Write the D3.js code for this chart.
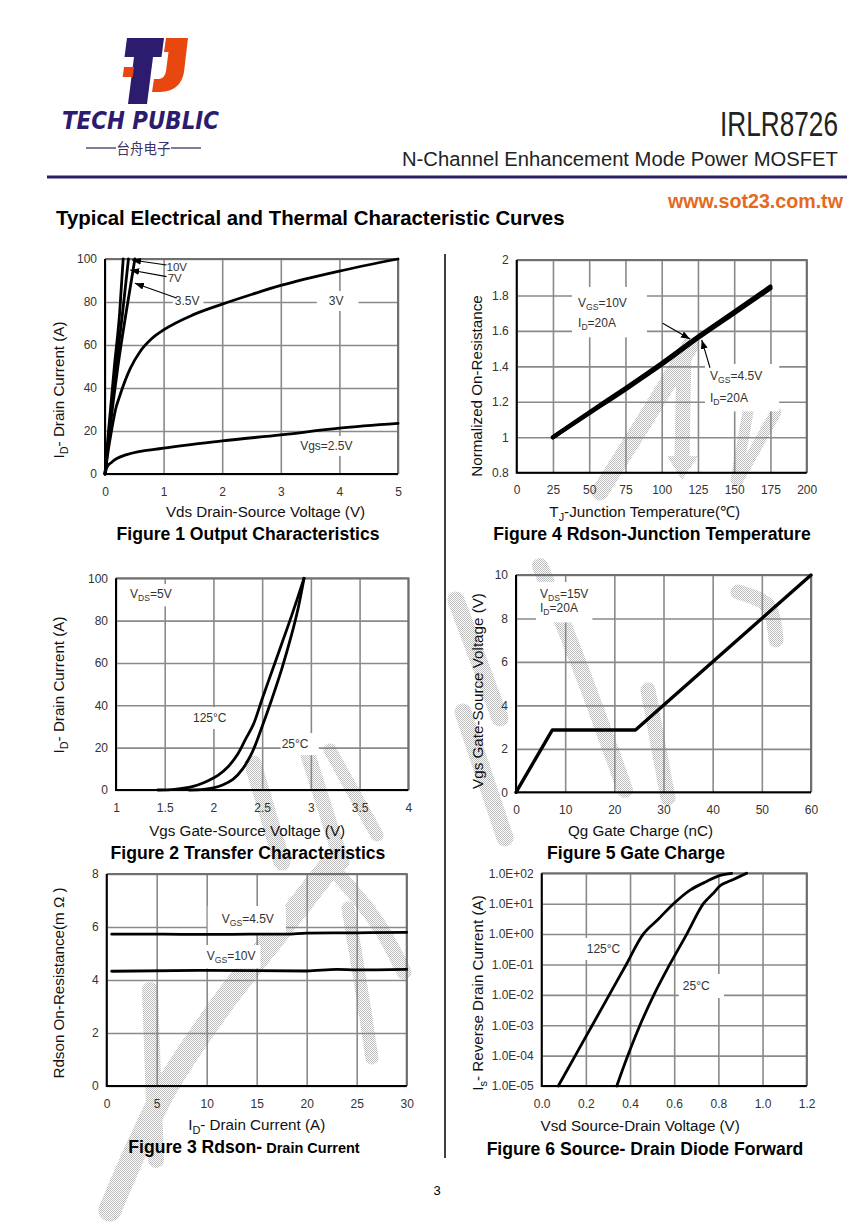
<!DOCTYPE html>
<html><head><meta charset="utf-8">
<script src="https://cdn.jsdelivr.net/npm/d3@7"></script>
<style>html,body{margin:0;padding:0;background:#fff}</style>
</head><body>
<script>
// ---------------- DATA ----------------
const fig1XTicks = [0, 1, 2, 3, 4, 5];
const fig1YTicks = [0, 20, 40, 60, 80, 100];
const fig1Vgs10 = [[0,0],[0.06,20],[0.16,50],[0.25,75],[0.31,100]];
const fig1Vgs7  = [[0,0],[0.07,20],[0.19,50],[0.30,75],[0.40,100]];
const fig1Vgs35 = [[0,0],[0.08,20],[0.22,50],[0.36,75],[0.51,100]];
const fig1Vgs3  = [[0,0],[0.05,10],[0.11,20],[0.18,30],[0.26,37],[0.43,49],[0.6,57],[0.8,63],[1,67],[1.5,74],[2,79],[2.5,83.5],[3,87.7],[4,94.4],[5,100]];
const fig1Vgs25 = [[0,0],[0.03,3],[0.11,5.4],[0.37,9],[1,12],[2,15.4],[3,18.2],[4,21.3],[5,23.5]];

const fig4XTicks = [0, 25, 50, 75, 100, 125, 150, 175, 200];
const fig4YTicks = [0.8, 1, 1.2, 1.4, 1.6, 1.8, 2];
const fig4YLabels = ["0.8", "1", "1.2", "1.4", "1.6", "1.8", "2"];
const fig4Vgs10 = [[25,1.0],[50,1.135],[75,1.27],[100,1.41],[125,1.56],[150,1.70],[175,1.84]];
const fig4Vgs45 = [[25,1.0],[50,1.14],[75,1.277],[100,1.418],[125,1.567],[150,1.708],[175,1.85]];

const fig2XTicks = [1, 1.5, 2, 2.5, 3, 3.5, 4];
const fig2YTicks = [0, 20, 40, 60, 80, 100];
const fig2T125 = [[1.43,0],[1.6,0.3],[1.8,1.8],[1.95,4.5],[2.05,7],[2.15,11],[2.25,17],[2.33,24],[2.41,31],[2.5,43],[2.6,56],[2.7,69],[2.8,82],[2.93,100]];
const fig2T25  = [[1.75,0],[1.9,0.3],[2.0,1],[2.1,2.5],[2.2,5],[2.3,10],[2.4,18],[2.5,30],[2.6,43],[2.7,57],[2.8,73],[2.87,86],[2.93,100]];

const fig5XTicks = [0, 10, 20, 30, 40, 50, 60];
const fig5YTicks = [0, 2, 4, 6, 8, 10];
const fig5Vgs = [[0,0],[7.4,2.87],[24.3,2.87],[60,10]];

const fig3XTicks = [0, 5, 10, 15, 20, 25, 30];
const fig3YTicks = [0, 2, 4, 6, 8];
const fig3Vgs45 = [[0.5,5.73],[5,5.73],[10,5.72],[15,5.73],[18,5.73],[20,5.77],[25,5.78],[30,5.80]];
const fig3Vgs10 = [[0.5,4.33],[10,4.36],[20,4.34],[23,4.40],[25,4.38],[30,4.40]];

const fig6XTicks = [0, 0.2, 0.4, 0.6, 0.8, 1.0, 1.2];
const fig6XLabels = ["0.0", "0.2", "0.4", "0.6", "0.8", "1.0", "1.2"];
const fig6YTicks = [1e-5, 1e-4, 1e-3, 1e-2, 1e-1, 1, 10, 100];
const fig6YLabels = ["1.0E-05", "1.0E-04", "1.0E-03", "1.0E-02", "1.0E-01", "1.0E+00", "1.0E+01", "1.0E+02"];
const fig6T125 = [[0.075,1e-5],[0.152,1e-4],[0.229,1e-3],[0.306,1e-2],[0.383,1e-1],[0.46,1],[0.53,3.2],[0.597,10],[0.672,28],[0.747,54],[0.808,85],[0.86,100]];
const fig6T25  = [[0.34,1e-5],[0.39,1e-4],[0.445,1e-3],[0.508,1e-2],[0.58,1e-1],[0.657,1],[0.732,10],[0.777,22],[0.81,40],[0.868,63],[0.928,100]];

// ---------------- RENDER ----------------
const FONT = "'Liberation Sans', Arial, Helvetica, sans-serif";
const svg = d3.select('body').append('svg').attr('width', 868).attr('height', 1228)
  .style('display','block').attr('font-family', FONT);
svg.append('rect').attr('width', 868).attr('height', 1228).attr('fill', '#fff');

const defs = svg.append('defs');
defs.append('marker').attr('id','arr').attr('markerUnits','userSpaceOnUse')
  .attr('markerWidth',9).attr('markerHeight',7).attr('refX',9).attr('refY',3.5).attr('orient','auto')
  .append('path').attr('d','M0,0 L9,3.5 L0,7 Z').attr('fill','#000');
const pat = defs.append('pattern').attr('id','hatch').attr('patternUnits','userSpaceOnUse').attr('width',2).attr('height',2);
pat.append('rect').attr('x',0).attr('y',0).attr('width',1).attr('height',1).attr('fill','#bcbcbc');
pat.append('rect').attr('x',1).attr('y',1).attr('width',1).attr('height',1).attr('fill','#bcbcbc');

// faint watermark (decoration, under the charts)
const wm = svg.append('g').attr('fill','none').attr('stroke','url(#hatch)').attr('stroke-linecap','round').attr('stroke-linejoin','round');
const wmStrokes = [
  {w:17, p:[[690,346],[645,420],[600,492]]},
  {w:15, p:[[684,352],[682,458]]},
  {w:11, p:[[748,412],[736,480]]},
  {w:11, p:[[776,412],[738,480]]},
  {w:17, p:[[456,600],[500,718]]},
  {w:17, p:[[463,712],[505,838]]},
  {w:16, p:[[540,566],[585,680],[625,790]]},
  {w:15, p:[[648,690],[668,798]]},
  {w:15, p:[[738,592],[768,606],[776,640]]},
  {w:17, p:[[253,764],[282,862]]},
  {w:15, p:[[306,749],[342,862]]},
  {w:13, p:[[330,750],[377,835]]},
  {w:23, p:[[330,866],[280,930],[225,1000],[165,1090],[110,1210]]},
  {w:16, p:[[150,990],[156,1160]]},
  {w:15, p:[[336,872],[378,924],[404,972]]},
  {w:13, p:[[348,908],[360,980],[372,1058]]}
];
const wmLine = d3.line().curve(d3.curveCatmullRom);
wmStrokes.forEach(s => wm.append('path').attr('d', wmLine(s.p)).attr('stroke-width', s.w));
wm.append('path').attr('d','M667,456 L698,456 L682,480 Z').attr('fill','url(#hatch)').attr('stroke','none');

function richText(g, x, y, parts, o) {
  const t = g.append('text').attr('x', x).attr('y', y).attr('font-size', o.size)
    .attr('fill', o.fill || '#000').attr('text-anchor', o.anchor || 'start');
  if (o.weight) t.attr('font-weight', o.weight);
  if (o.rotate) t.attr('transform', `rotate(-90,${x},${y})`);
  let shifted = false;
  const sh = o.size * 0.28;
  parts.forEach(p => {
    const ts = t.append('tspan');
    if (typeof p === 'string') {
      ts.text(p);
      if (shifted) { ts.attr('dy', -sh); shifted = false; }
    } else if (p.s) {
      ts.text(p.s).attr('font-size', o.size * 0.72).attr('dy', sh); shifted = true;
    } else if (p.small) {
      ts.text(p.small).attr('font-size', p.size);
    }
  });
  return t;
}

// text squeezed horizontally to a given width (via transform, so its box stays honest)
function fitText(g, x, y, str, width, attrs) {
  const gg = g.append('g');
  const t = gg.append('text').attr('x', 0).attr('y', 0).text(str);
  Object.entries(attrs).forEach(([k, v]) => t.attr(k, v));
  const natural = t.node().getComputedTextLength();
  gg.attr('transform', `translate(${x},${y}) scale(${width / natural},1)`);
  return t;
}

function drawChart(c) {
  const g = svg.append('g');
  const x = d3.scaleLinear().domain(c.xDomain).range([c.left, c.right]);
  const y = (c.yLog ? d3.scaleLog() : d3.scaleLinear()).domain(c.yDomain).range([c.bottom, c.top]);
  const H = c.bottom - c.top, W = c.right - c.left;
  const gridLayer = g.append('g'), boxLayer = g.append('g'), lineLayer = g.append('g'), textLayer = g.append('g');

  const styleAxis = a => {
    a.attr('font-family', FONT).attr('font-size', 12);
    a.select('.domain').remove();
    a.selectAll('.tick line').attr('stroke', '#8a8a8a').attr('stroke-width', 1.6);
    a.selectAll('.tick text').attr('fill', '#333');
  };
  gridLayer.append('g').attr('transform', `translate(0,${c.bottom})`)
    .call(d3.axisBottom(x).tickValues(c.xTicks).tickSize(-H).tickPadding(c.xPad || 13)
      .tickFormat((d, i) => c.xLabels ? c.xLabels[i] : String(d)))
    .call(styleAxis);
  gridLayer.append('g').attr('transform', `translate(${c.left},0)`)
    .call(d3.axisLeft(y).tickValues(c.yTicks).tickSize(-W).tickPadding(c.yPad || 8)
      .tickFormat((d, i) => c.yLabels ? c.yLabels[i] : String(d)))
    .call(styleAxis);
  gridLayer.append('path').attr('d', `M${c.left},${c.top} H${c.right} V${c.bottom}`)
    .attr('fill','none').attr('stroke','#6f6f6f').attr('stroke-width',2);
  gridLayer.append('path').attr('d', `M${c.left},${c.top} V${c.bottom} H${c.right}`)
    .attr('fill','none').attr('stroke','#000').attr('stroke-width',2);

  const line = d3.line().x(d => x(d[0])).y(d => y(d[1])).curve(c.curve || d3.curveMonotoneX);
  c.series.forEach(s => {
    lineLayer.append('path').attr('d', line(s)).attr('fill','none').attr('stroke','#000')
      .attr('stroke-width', c.lw).attr('stroke-linejoin','round').attr('stroke-linecap','round');
  });
  (c.arrows || []).forEach(a => {
    lineLayer.append('line').attr('x1', x(a[0][0])).attr('y1', y(a[0][1]))
      .attr('x2', x(a[1][0])).attr('y2', y(a[1][1])).attr('stroke','#000').attr('stroke-width',1.1)
      .attr('marker-end','url(#arr)');
  });
  (c.labels || []).forEach(l => {
    const lines = l.lines || [l.parts];
    const px = x(l.at[0]), py = y(l.at[1]);
    const nodes = lines.map((p, i) => richText(textLayer, px, py + i * (l.lineH || 14), p, {size: l.size || 12, fill: '#333'}));
    if (l.box) {
      let x0 = 1e9, y0 = 1e9, x1 = -1e9, y1 = -1e9;
      nodes.forEach(n => { const b = n.node().getBBox(); x0 = Math.min(x0, b.x); y0 = Math.min(y0, b.y); x1 = Math.max(x1, b.x + b.width); y1 = Math.max(y1, b.y + b.height); });
      boxLayer.append('rect').attr('x', x0 - l.box[0]).attr('y', y0 - l.box[1])
        .attr('width', x1 - x0 + l.box[0] + l.box[2]).attr('height', y1 - y0 + l.box[1] + l.box[3]).attr('fill','#fff');
    }
  });
  richText(g, (c.left + c.right) / 2 + (c.xtDx || 0), c.xtY, c.xTitle, {size: 15.2, anchor: 'middle', fill: '#111'});
  richText(g, c.ytX, c.ytY, c.yTitle, {size: 15.2, anchor: 'middle', fill: '#111', rotate: true});
  richText(g, c.capX, c.capY, c.caption, {size: 17.6, anchor: 'middle', weight: 'bold', fill: '#000'});
}

// ---- header ----
const hdr = svg.append('g');
hdr.append('path').attr('d','M127,38 L164,38 L161.5,57 L124.5,57 Z').attr('fill','#2d1b6e');
hdr.append('path').attr('d','M134,57 L153,57 L147,104 L128,104 Z').attr('fill','#2d1b6e');
hdr.append('path').attr('d','M166,38 L188,38 L184,72 Q181,91 160,92 L152,92 L154,79 L159,79 Q165,78 166,71 L168.5,52 L164,52 Z').attr('fill','#e8470f');
hdr.append('path').attr('d','M124,67 L134,67 L132.7,77 L122.7,77 Z').attr('fill','#e8470f');
fitText(hdr, 62, 129, 'TECH PUBLIC', 157, {'font-size':25, 'font-weight':900, 'font-style':'italic', fill:'#2d1b6e', 'font-family':"'DejaVu Sans', 'Liberation Sans', sans-serif"});
hdr.append('line').attr('x1',86).attr('x2',116).attr('y1',148).attr('y2',148).attr('stroke','#3b3462').attr('stroke-width',1.3);
hdr.append('line').attr('x1',171).attr('x2',201).attr('y1',148).attr('y2',148).attr('stroke','#3b3462').attr('stroke-width',1.3);
fitText(hdr, 116.5, 154, '台舟电子', 54, {'font-size':15, fill:'#3b3462', 'font-family':"'Noto Sans CJK SC', sans-serif"});

fitText(hdr, 720, 136, 'IRLR8726', 118, {'font-size':35, fill:'#222'});
fitText(hdr, 402, 166, 'N-Channel  Enhancement Mode Power MOSFET', 436, {'font-size':21, fill:'#222'});
hdr.append('line').attr('x1',47).attr('x2',847).attr('y1',177).attr('y2',177).attr('stroke','#2d1e63').attr('stroke-width',3);
fitText(hdr, 668, 208, 'www.sot23.com.tw', 175, {'font-size':19.5, 'font-weight':'bold', fill:'#e56a1c'});
fitText(hdr, 56, 225, 'Typical Electrical and Thermal Characteristic Curves', 509, {'font-size':20.5, 'font-weight':'bold', fill:'#000'});
svg.append('line').attr('x1',445).attr('x2',445).attr('y1',254).attr('y2',1158).attr('stroke','#000').attr('stroke-width',1.5);
svg.append('text').attr('x',437).attr('y',1195).attr('text-anchor','middle').attr('font-size',13).attr('fill','#000').text('3');

// ---- charts ----
const smooth = d3.curveCatmullRom.alpha(0.5);
drawChart({
  left:105, right:398, top:259, bottom:474, xDomain:[0,5], yDomain:[0,100],
  xTicks: fig1XTicks, yTicks: fig1YTicks, lw: 2.8,
  series: [fig1Vgs10, fig1Vgs7, fig1Vgs35, fig1Vgs3, fig1Vgs25],
  labels: [
    {parts:['10V'], at:[1.05,94.4], size:11.5},
    {parts:['7V'], at:[1.07,89.3], size:11.5},
    {parts:['3.5V'], at:[1.19,78.6], box:[2,3,4,3]},
    {parts:['3V'], at:[3.82,78.6], box:[12,3,15,3]},
    {parts:['Vgs=2.5V'], at:[3.33,11.2], box:[3,3,3,3]}
  ],
  arrows: [[[1.05,97.2],[0.46,99.5]], [[1.05,91.8],[0.43,94.9]], [[1.22,81.9],[0.51,88.7]]],
  xTitle:['Vds Drain-Source Voltage (V)'], xtY:517, xtDx:14,
  yTitle:['I',{s:'D'},'- Drain Current (A)'], ytX:64, ytY:390,
  caption:['Figure 1 Output Characteristics'], capX:248, capY:540
});
drawChart({
  left:516.7, right:806.7, top:260, bottom:472.7, xDomain:[0,200], yDomain:[0.8,2],
  xTicks: fig4XTicks, yTicks: fig4YTicks, yLabels: fig4YLabels, lw: 4.2, curve: smooth,
  series: [fig4Vgs10, fig4Vgs45],
  labels: [
    {lines:[['V',{s:'GS'},'=10V'],['I',{s:'D'},'=20A']], at:[42.3,1.735], lineH:20, box:[6,9,20,5]},
    {lines:[['V',{s:'GS'},'=4.5V'],['I',{s:'D'},'=20A']], at:[133.3,1.323], lineH:22, box:[5,5,17,4]}
  ],
  arrows: [[[100.7,1.643],[119.5,1.554]], [[133.3,1.392],[127.6,1.549]]],
  xTitle:['T',{s:'J'},'-Junction Temperature(℃)'], xtY:517, xtDx:-17,
  yTitle:['Normalized On-Resistance'], ytX:482, ytY:386,
  caption:['Figure 4 Rdson-Junction Temperature'], capX:652, capY:540
});
drawChart({
  left:116, right:408.3, top:578.3, bottom:790, xDomain:[1,4], yDomain:[0,100],
  xTicks: fig2XTicks, yTicks: fig2YTicks, lw: 2.8, curve: smooth,
  series: [fig2T125, fig2T25],
  labels: [
    {parts:['V',{s:'DS'},'=5V'], at:[1.144,90.7], box:[3,3,3,3]},
    {parts:['125°C'], at:[1.79,32.1], box:[6,4,10,4]},
    {parts:['25°C'], at:[2.70,19.8], box:[1,4,10,4]}
  ],
  xTitle:['Vgs Gate-Source Voltage (V)'], xtY:836, xtDx:-15,
  yTitle:['I',{s:'D'},'- Drain Current (A)'], ytX:64, ytY:685,
  caption:['Figure 2 Transfer Characteristics'], capX:248, capY:859
});
drawChart({
  left:516, right:811, top:575, bottom:792.3, xDomain:[0,60], yDomain:[0,10],
  xTicks: fig5XTicks, yTicks: fig5YTicks, lw: 3.4, curve: d3.curveLinear,
  series: [fig5Vgs],
  labels: [
    {lines:[['V',{s:'DS'},'=15V'],['I',{s:'D'},'=20A']], at:[4.88,8.94], lineH:14, box:[4,5,4,5]}
  ],
  xTitle:['Qg Gate Charge (nC)'], xtY:836, xtDx:-23,
  yTitle:['Vgs Gate-Source Voltage (V)'], ytX:483, ytY:691,
  caption:['Figure 5 Gate Charge'], capX:636, capY:859
});
drawChart({
  left:106.7, right:406.7, top:874, bottom:1086, xDomain:[0,30], yDomain:[0,8],
  xTicks: fig3XTicks, yTicks: fig3YTicks, lw: 2.8,
  series: [fig3Vgs45, fig3Vgs10],
  labels: [
    {parts:['V',{s:'GS'},'=4.5V'], at:[11.5,6.15], box:[14,6,12,6]},
    {parts:['V',{s:'GS'},'=10V'], at:[10,4.75], box:[5,4,5,3]}
  ],
  xTitle:['I',{s:'D'},'- Drain Current (A)'], xtY:1130, xtDx:0,
  yTitle:['Rdson On-Resistance(m Ω )'], ytX:64, ytY:983,
  caption:['Figure 3 Rdson-', {small:' Drain Current', size:14.5}], capX:244, capY:1153
});
drawChart({
  left:541.7, right:806.7, top:873.3, bottom:1086, xDomain:[0,1.2], yDomain:[1e-5,100], yLog:true,
  xTicks: fig6XTicks, xLabels: fig6XLabels, yTicks: fig6YTicks, yLabels: fig6YLabels, lw: 2.8, curve: smooth,
  series: [fig6T125, fig6T25],
  labels: [
    {parts:['125°C'], at:[0.204,0.239], box:[4,4,5,4]},
    {parts:['25°C'], at:[0.639,0.01445], box:[4,5,14,5]}
  ],
  xTitle:['Vsd Source-Drain Voltage (V)'], xtY:1131, xtDx:-34,
  yTitle:['I',{s:'s'},'- Reverse Drain Current (A)'], ytX:483, ytY:993,
  caption:['Figure 6 Source- Drain Diode Forward'], capX:645, capY:1155
});
</script></body></html>
